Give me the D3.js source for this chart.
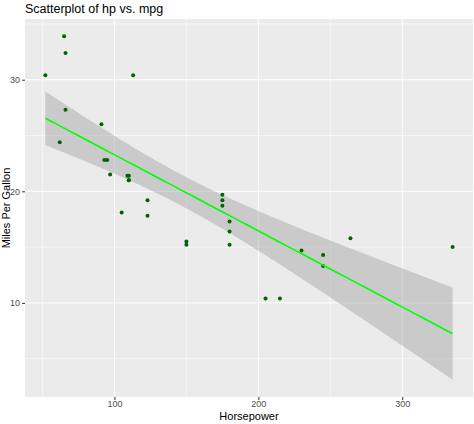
<!DOCTYPE html>
<html>
<head>
<meta charset="utf-8">
<script src="https://cdn.jsdelivr.net/npm/d3@7"></script>
<style>
  body { margin: 0; background: #fff; }
  svg { display: block; font-family: "Liberation Sans", Arial, sans-serif; }
</style>
</head>
<body>
<script>
// mtcars: horsepower and miles per gallon
var hp  = [110, 110, 93, 110, 175, 105, 245, 62, 95, 123, 123, 180, 180, 180, 205, 215,
           230, 66, 52, 65, 97, 150, 150, 245, 175, 66, 91, 113, 264, 175, 335, 109];
var mpg = [21.0, 21.0, 22.8, 21.4, 18.7, 18.1, 14.3, 24.4, 22.8, 19.2, 17.8, 16.4, 17.3, 15.2, 10.4, 10.4,
           14.7, 32.4, 30.4, 33.9, 21.5, 15.5, 15.2, 13.3, 19.2, 27.3, 26.0, 30.4, 15.8, 19.7, 15.0, 21.4];
var xTicks = [100, 200, 300];
var yTicks = [10, 20, 30];
var xMinor = [50, 150, 250, 350];
var yMinor = [5, 15, 25, 35];

var w = 474, h = 424;
var pLeft = 25, pRight = 473, pTop = 19, pBottom = 397;

var pts = hp.map(function(d, i) { return {hp: d, mpg: mpg[i]}; });

// linear fit with 95% confidence band (like geom_smooth(method = "lm"))
var n = pts.length;
var mx = d3.mean(hp), my = d3.mean(mpg);
var sxx = d3.sum(hp, function(d) { return (d - mx) * (d - mx); });
var sxy = d3.sum(pts, function(d) { return (d.hp - mx) * (d.mpg - my); });
var slope = sxy / sxx, intercept = my - slope * mx;
var rss = d3.sum(pts, function(d) { var r = d.mpg - (intercept + slope * d.hp); return r * r; });
var sigma = Math.sqrt(rss / (n - 2));
var tq = 2.042272; // qt(0.975, 30)

var xMin = d3.min(hp), xMax = d3.max(hp);
var fit = d3.range(80).map(function(i) {
  var xv = xMin + (xMax - xMin) * i / 79;
  var yv = intercept + slope * xv;
  var se = sigma * Math.sqrt(1 / n + (xv - mx) * (xv - mx) / sxx);
  return {x: xv, y: yv, lo: yv - tq * se, hi: yv + tq * se};
});

var yLo = Math.min(d3.min(mpg), d3.min(fit, function(d) { return d.lo; }));
var yHi = Math.max(d3.max(mpg), d3.max(fit, function(d) { return d.hi; }));
var xPad = (xMax - xMin) * 0.05, yPad = (yHi - yLo) * 0.05;

var x = d3.scaleLinear().domain([xMin - xPad, xMax + xPad]).range([pLeft, pRight]);
var y = d3.scaleLinear().domain([yLo - yPad, yHi + yPad]).range([pBottom, pTop]);

var svg = d3.select("body").append("svg").attr("width", w).attr("height", h);

// panel
svg.append("rect").attr("x", pLeft).attr("y", pTop)
   .attr("width", pRight - pLeft).attr("height", pBottom - pTop).attr("fill", "#ebebeb");

var grid = svg.append("g").attr("stroke", "#fff").attr("fill", "none");
grid.selectAll(".vmin").data(xMinor.filter(function(d) { return x(d) < pRight; })).enter().append("line")
    .attr("x1", function(d) { return x(d); }).attr("x2", function(d) { return x(d); })
    .attr("y1", pTop).attr("y2", pBottom).attr("stroke-width", 0.5);
grid.selectAll(".hmin").data(yMinor.filter(function(d) { return y(d) > pTop && y(d) < pBottom; })).enter().append("line")
    .attr("y1", function(d) { return y(d); }).attr("y2", function(d) { return y(d); })
    .attr("x1", pLeft).attr("x2", pRight).attr("stroke-width", 0.5);
grid.selectAll(".vmaj").data(xTicks).enter().append("line")
    .attr("x1", function(d) { return x(d); }).attr("x2", function(d) { return x(d); })
    .attr("y1", pTop).attr("y2", pBottom).attr("stroke-width", 1);
grid.selectAll(".hmaj").data(yTicks).enter().append("line")
    .attr("y1", function(d) { return y(d); }).attr("y2", function(d) { return y(d); })
    .attr("x1", pLeft).attr("x2", pRight).attr("stroke-width", 1);

// confidence band
svg.append("path").datum(fit)
   .attr("d", d3.area().x(function(d) { return x(d.x); })
                       .y0(function(d) { return y(d.lo); })
                       .y1(function(d) { return y(d.hi); }))
   .attr("fill", "#999999").attr("fill-opacity", 0.4);

// points
svg.append("g").selectAll("circle").data(pts).enter().append("circle")
   .attr("cx", function(d) { return x(d.hp); })
   .attr("cy", function(d) { return y(d.mpg); })
   .attr("r", 2)
   .attr("fill", "#006400");

// fitted line
svg.append("path").datum(fit)
   .attr("d", d3.line().x(function(d) { return x(d.x); }).y(function(d) { return y(d.y); }))
   .attr("fill", "none").attr("stroke", "#00ff00").attr("stroke-width", 1.6);

// axes
var xAxis = svg.append("g").attr("transform", "translate(0," + pBottom + ")")
   .call(d3.axisBottom(x).tickValues(xTicks).tickSize(3).tickPadding(1));
var yAxis = svg.append("g").attr("transform", "translate(" + pLeft + ",0)")
   .call(d3.axisLeft(y).tickValues(yTicks).tickSize(3).tickPadding(2));
[xAxis, yAxis].forEach(function(a) {
  a.select(".domain").remove();
  a.selectAll(".tick line").attr("stroke", "#333333");
  a.selectAll(".tick text").attr("fill", "#4d4d4d").style("font-size", "9px")
   .style("font-family", "'Liberation Sans', Arial, sans-serif");
});

// titles
svg.append("text").attr("x", pLeft).attr("y", 13)
   .style("font-size", "12.5px").attr("fill", "#000").text("Scatterplot of hp vs. mpg");
svg.append("text").attr("x", (pLeft + pRight) / 2).attr("y", 419.5)
   .attr("text-anchor", "middle").style("font-size", "11px").attr("fill", "#000").text("Horsepower");
svg.append("text").attr("transform", "translate(10," + ((pTop + pBottom) / 2) + ") rotate(-90)")
   .attr("text-anchor", "middle").style("font-size", "11px").attr("fill", "#000").text("Miles Per Gallon");
</script>
</body>
</html>
